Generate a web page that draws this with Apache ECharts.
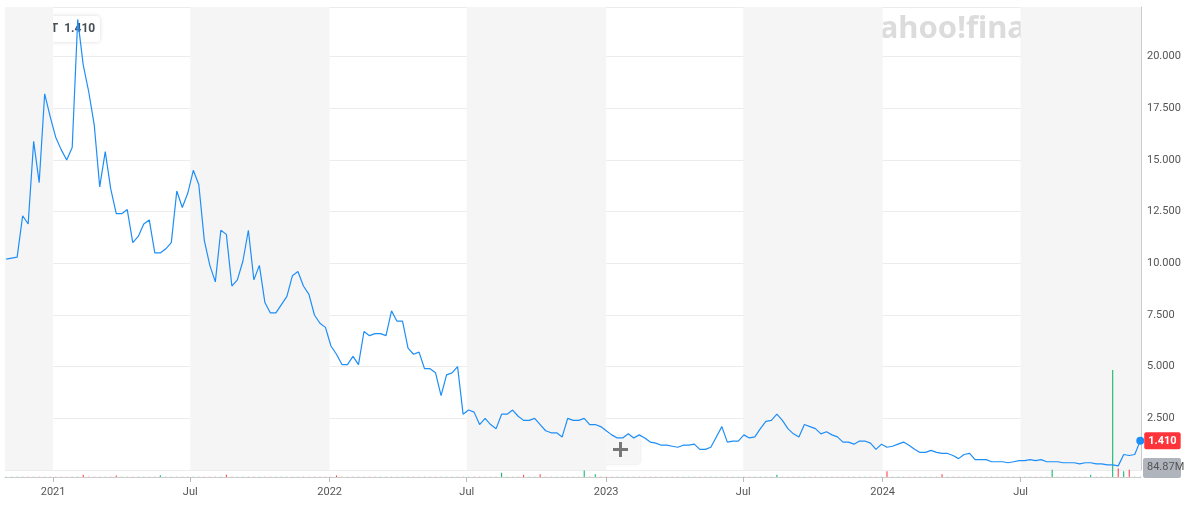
<!DOCTYPE html>
<html><head><meta charset="utf-8">
<script src="https://cdn.jsdelivr.net/npm/echarts@6/dist/echarts.min.js"></script>
<style>html,body{margin:0;padding:0;background:#fff}#c{width:1185px;height:514px}</style>
</head><body><div id="c"></div>
<script>
const startDate = '2020-10-31';
const endDate = '2024-12-06';
const prices = [
10.2,10.25,10.3,12.3,11.9,15.9,13.9,18.2,17.1,16.1,15.5,15.0,15.6,21.8,19.6,18.3,16.7,13.7,15.4,13.6,
12.4,12.4,12.6,11.0,11.3,11.9,12.1,10.5,10.5,10.7,11.0,13.5,12.7,13.4,14.5,13.8,11.1,9.9,9.1,11.6,
11.4,8.9,9.2,10.1,11.6,9.2,9.9,
8.1,7.6,7.6,8.0,8.4,9.4,9.6,8.9,8.5,7.5,7.1,6.9,6.0,5.6,5.1,5.1,5.5,5.1,6.7,6.5,
6.6,6.6,6.5,7.7,7.2,7.2,5.9,5.6,5.7,4.9,4.9,4.7,3.6,4.6,4.7,5.0,2.7,2.9,2.8,2.2,
2.5,2.2,2.0,
2.7,2.7,2.9,2.6,2.4,2.4,2.5,2.2,1.9,1.8,1.8,1.6,2.5,2.4,2.4,2.5,2.2,2.2,2.1,1.9,
1.7,1.55,1.55,1.75,1.55,1.7,1.55,1.35,1.3,1.2,
1.2,1.15,1.1,1.2,1.2,1.25,1.0,1.0,1.1,1.6,2.1,1.35,1.4,1.4,1.7,1.55,1.6,2.0,2.35,2.4,
2.7,2.4,2.0,1.75,1.6,2.2,2.1,2.0,1.75,1.85,1.7,1.6,1.35,
1.35,1.25,1.4,1.4,1.3,1.0,1.25,1.1,1.15,1.25,1.35,1.2,1.0,0.85,0.85,0.95,0.85,0.8,0.8,0.7,
0.55,0.75,0.8,0.5,0.5,0.5,0.4,0.4,0.4,
0.35,0.4,0.45,0.45,0.5,0.45,0.5,0.4,0.4,0.4,0.35,0.35,0.35,0.3,0.35,0.35,0.3,0.3,0.25,0.25,
0.2,0.75,0.7,0.75,1.41
];
// weekly volume, millions (most weeks too small to show)
const volumes = prices.map(()=>0.4);
const volumeSpikes = [[14,3],[20,2],[28,2.5],[40,3],[60,2],[90,6],[94,3],[97,4],[105,9],[107,4],[140,3],[160,8],[170,4],[190,10],[197,3],[201,150],[202,12],[203,8],[204,10]];
volumeSpikes.forEach(([i,v])=>{ if(i<volumes.length) volumes[i]=v; });
const tickLabels = ['2021','Jul','2022','Jul','2023','Jul','2024','Jul'];
const tickDates = ['2021-01-01','2021-07-01','2022-01-01','2022-07-01','2023-01-01','2023-07-01','2024-01-01','2024-07-01'];
const shadeBands = [['2020-10-01','2021-01-01'],['2021-07-01','2022-01-01'],['2022-07-01','2023-01-01'],['2023-07-01','2024-01-01'],['2024-07-01','2025-01-01']];

const ts = d => new Date(d+'T00:00:00Z').getTime();
const t0 = ts(startDate), t1 = ts(endDate);
const n = prices.length;
const times = prices.map((_,i)=> t0 + (t1-t0)*i/(n-1));
const priceData = prices.map((p,i)=>[times[i],p]);
const volData = volumes.map((v,i)=>({value:[times[i],v], itemStyle:{color: (i>0 && prices[i]<prices[i-1]) ? '#ff333a' : '#00b061'}}));
const tickTs = tickDates.map(ts);
const xmin = t0 - 1.5*86400000, xmax = t1 + 1*86400000;

const chart = echarts.init(document.getElementById('c'));
chart.setOption({
  animation:false,
  grid:[{left:5,right:44,top:7,bottom:44},{left:5,right:44,top:300,bottom:37}],
  xAxis:[
    {type:'value',gridIndex:0,min:xmin,max:xmax,show:false,splitLine:{show:false}},
    {type:'value',gridIndex:1,min:xmin,max:xmax,
     axisLine:{show:true,lineStyle:{color:'#ccc'}},
     axisTick:{show:true,customValues:tickTs,length:5,lineStyle:{color:'#bbb'}},
     axisLabel:{customValues:tickTs,color:'#555',fontSize:11,fontFamily:'Roboto, sans-serif',margin:10,
       formatter:(v)=>{const k=tickTs.indexOf(v);return k>=0?tickLabels[k]:'';}},
     splitLine:{show:false}}
  ],
  yAxis:[
    {type:'value',gridIndex:0,position:'right',min:0,max:22.4,interval:2.5,
     axisLine:{show:true,lineStyle:{color:'#ccc'}},axisTick:{show:false},
     axisLabel:{color:'#555',fontSize:11,fontFamily:'Roboto, sans-serif',margin:6,showMaxLabel:false,showMinLabel:false,
       formatter:v=>v.toFixed(3)},
     splitLine:{lineStyle:{color:'#ececec'}}},
    {type:'value',gridIndex:1,min:0,max:248,show:false,splitLine:{show:false}}
  ],
  series:[
    {type:'line',xAxisIndex:0,yAxisIndex:0,data:priceData,showSymbol:false,
     lineStyle:{color:'#1e8ef7',width:1.2},z:5,
     markArea:{silent:true,itemStyle:{color:'#f5f5f5'},
       data:shadeBands.map(([a,b])=>[{xAxis:Math.max(ts(a),xmin)},{xAxis:Math.min(ts(b),xmax)}])},
     markPoint:{symbol:'circle',symbolSize:8,itemStyle:{color:'#1e8ef7'},label:{show:false},
       data:[{coord:priceData[n-1]}]},
     endLabel:{show:true,formatter:p=>p.value[1].toFixed(3),backgroundColor:'#ff333a',color:'#fff',
       fontSize:11,fontWeight:'bold',padding:[3,4],borderRadius:2,distance:4,fontFamily:'Roboto, sans-serif'}
    },
    {type:'bar',xAxisIndex:1,yAxisIndex:1,data:volData,barWidth:1,z:3}
  ],
  graphic:[
    {type:'group',left:10,top:16,children:[
      {type:'rect',shape:{x:0,y:0,width:90,height:26,r:4},style:{fill:'#fff',shadowBlur:4,shadowColor:'rgba(0,0,0,0.15)'}},
      {type:'rect',shape:{x:0,y:0,width:4,height:26,r:[4,0,0,4]},style:{fill:'#1e8ef7'}},
      {type:'text',x:15,y:7,style:{text:'MVST  1.410',fill:'#464e56',font:'bold 12px Roboto, sans-serif'}}
    ]},
    {type:'text',left:862,top:14,style:{text:'yahoo!finance',fill:'#dcdcdc',font:'bold 31px "Noto Sans", sans-serif'}},
    {type:'group',left:1143,top:458,children:[
      {type:'rect',shape:{x:0,y:0,width:38,height:20,r:2},style:{fill:'#b0b4bd'}},
      {type:'text',x:4,y:4,style:{text:'84.87M',fill:'#555',font:'11px Roboto, sans-serif'}}
    ]},
    {type:'group',left:560,top:436,children:[
      {type:'rect',shape:{x:0,y:0,width:80,height:28,r:3},style:{fill:'rgba(248,248,248,0.9)',shadowBlur:3,shadowColor:'rgba(0,0,0,0.15)'}},
      {type:'line',shape:{x1:40,y1:4,x2:40,y2:24},style:{stroke:'#ddd'}},
      {type:'rect',shape:{x:13,y:12,width:15,height:3},style:{fill:'#777'}},
      {type:'rect',shape:{x:53,y:12,width:15,height:3},style:{fill:'#777'}},
      {type:'rect',shape:{x:59,y:6,width:3,height:15},style:{fill:'#777'}}
    ]}
  ]
});
</script></body></html>
